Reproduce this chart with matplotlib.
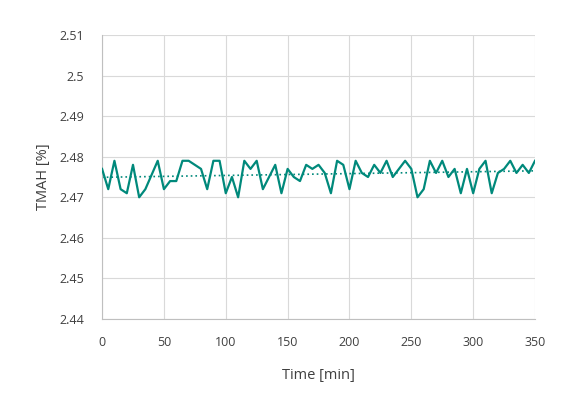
import matplotlib.pyplot as plt
import numpy as np

plt.rcParams['font.family'] = ['Open Sans', 'DejaVu Sans']

# sample times [min] and TMAH concentration [%]
time_min = np.arange(0, 355, 5)
tmah = [2.477, 2.472, 2.479, 2.472, 2.471, 2.478, 2.470, 2.472, 2.4755, 2.479,
        2.472, 2.474, 2.474, 2.479, 2.479, 2.478, 2.477, 2.472, 2.479, 2.479,
        2.471, 2.475, 2.470, 2.479, 2.477, 2.479, 2.472, 2.475, 2.478, 2.471,
        2.477, 2.475, 2.474, 2.478, 2.477, 2.478, 2.476, 2.471, 2.479, 2.478,
        2.472, 2.479, 2.476, 2.475, 2.478, 2.476, 2.479, 2.475, 2.477, 2.479,
        2.477, 2.470, 2.472, 2.479, 2.476, 2.479, 2.475, 2.477, 2.471, 2.477,
        2.471, 2.477, 2.479, 2.471, 2.476, 2.477, 2.479, 2.476, 2.478, 2.476,
        2.479]

xticks = [0, 50, 100, 150, 200, 250, 300, 350]
yticks = [2.44, 2.45, 2.46, 2.47, 2.48, 2.49, 2.50, 2.51]
ytick_labels = ['2.44', '2.45', '2.46', '2.47', '2.48', '2.49', '2.5', '2.51']

line_color = '#00897b'
text_color = '#404040'

fig = plt.figure(figsize=(5.67, 3.98), dpi=100)
ax = fig.add_axes([0.18, 0.1985, 0.7636, 0.7135])

ax.plot(time_min, tmah, color=line_color, lw=1.6, zorder=3)

# linear trend line
coef = np.polyfit(time_min, tmah, 1)
ax.plot(time_min, np.polyval(coef, time_min), color=line_color, lw=1.2,
        ls=(0, (1, 1.8)), zorder=2)

ax.set_xlim(0, 350)
ax.set_ylim(2.44, 2.51)
ax.set_xticks(xticks)
ax.set_yticks(yticks)
ax.set_yticklabels(ytick_labels)
ax.grid(True, color='#d9d9d9', lw=0.8)
ax.set_axisbelow(True)

for s in ['top', 'right']:
    ax.spines[s].set_visible(False)
for s in ['left', 'bottom']:
    ax.spines[s].set_color('#bfbfbf')
    ax.spines[s].set_linewidth(0.8)

ax.tick_params(axis='y', length=0, labelsize=9, colors=text_color, pad=13)
ax.tick_params(axis='x', length=0, labelsize=9, colors=text_color, pad=12)
ax.set_xlabel('Time [min]', fontsize=10.5, color=text_color, labelpad=14)
ax.set_ylabel('TMAH [%]', fontsize=10.5, color=text_color, labelpad=6)

plt.savefig('out.png', dpi=100)
